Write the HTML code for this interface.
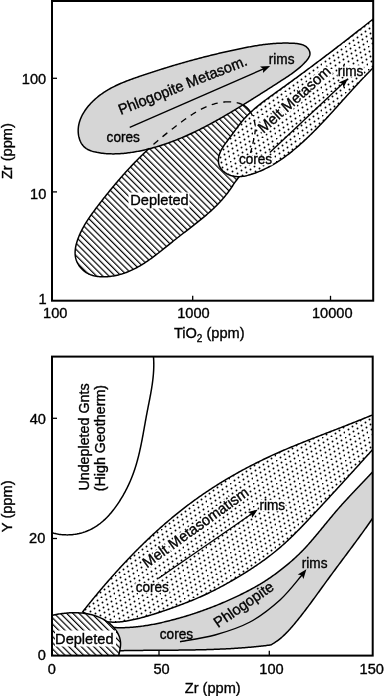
<!DOCTYPE html>
<html><head><meta charset="utf-8"><style>
html,body{margin:0;padding:0;background:#fff;width:384px;height:696px;overflow:hidden}
svg{display:block}
</style></head><body>
<svg width="384" height="696" viewBox="0 0 384 696">
<defs>
<pattern id="hatch" patternUnits="userSpaceOnUse" width="4.4" height="4.4" patternTransform="rotate(-45)">
<rect width="4.4" height="4.4" fill="#fff"/><rect x="0" y="0" width="1.2" height="4.4" fill="#000"/></pattern>
<pattern id="dots" patternUnits="userSpaceOnUse" width="23" height="23"><rect width="23" height="23" fill="#fff"/><g fill="#000"><circle cx="0.5" cy="0.5" r="0.95"/><circle cx="1.5" cy="5.5" r="0.95"/><circle cx="2.5" cy="10.5" r="0.95"/><circle cx="3.5" cy="15.5" r="0.95"/><circle cx="4.5" cy="20.5" r="0.95"/><circle cx="5.5" cy="2.5" r="0.95"/><circle cx="6.5" cy="7.5" r="0.95"/><circle cx="7.5" cy="12.5" r="0.95"/><circle cx="8.5" cy="17.5" r="0.95"/><circle cx="9.5" cy="22.5" r="0.95"/><circle cx="10.5" cy="4.5" r="0.95"/><circle cx="11.5" cy="9.5" r="0.95"/><circle cx="12.5" cy="14.5" r="0.95"/><circle cx="13.5" cy="19.5" r="0.95"/><circle cx="14.5" cy="1.5" r="0.95"/><circle cx="15.5" cy="6.5" r="0.95"/><circle cx="16.5" cy="11.5" r="0.95"/><circle cx="17.5" cy="16.5" r="0.95"/><circle cx="18.5" cy="21.5" r="0.95"/><circle cx="19.5" cy="3.5" r="0.95"/><circle cx="20.5" cy="8.5" r="0.95"/><circle cx="21.5" cy="13.5" r="0.95"/><circle cx="22.5" cy="18.5" r="0.95"/></g></pattern>
<clipPath id="ctop"><rect x="52" y="1" width="321.2" height="299.7"/></clipPath>
<clipPath id="cbot"><rect x="52" y="356.6" width="320.7" height="299"/></clipPath>
</defs>
<rect width="384" height="696" fill="#fff"/>
<style>text{stroke:#000;stroke-width:0.35px;paint-order:stroke}text.h{stroke:#fff;fill:#fff;stroke-width:3.4px;stroke-linejoin:round}</style>
<g style="font-family:'Liberation Sans',Arial,Helvetica,sans-serif" fill="#000">
<g clip-path="url(#ctop)" stroke="#000" stroke-width="1.5" stroke-linejoin="round">
<path d="M227.96 101.82 L229.16 101.82 L230.36 101.85 L231.56 101.91 L232.76 102.01 L233.96 102.15 L235.14 102.33 L236.32 102.56 L237.47 102.82 L238.62 103.14 L239.74 103.50 L240.84 103.92 L241.91 104.39 L242.96 104.92 L243.97 105.50 L244.96 106.14 L245.90 106.85 L246.81 107.61 L247.67 108.45 L248.49 109.35 L249.26 110.32 L249.99 111.33 L250.67 112.39 L251.30 113.47 L251.89 114.58 L252.43 115.70 L252.93 116.83 L253.38 117.97 L253.78 119.13 L254.14 120.29 L254.45 121.46 L254.71 122.64 L254.92 123.82 L255.09 125.01 L255.21 126.19 L255.28 127.38 L255.30 128.57 L255.27 129.75 L255.20 130.93 L255.08 132.11 L254.93 133.29 L254.74 134.46 L254.53 135.64 L254.30 136.81 L254.06 137.99 L253.80 139.16 L253.54 140.34 L253.27 141.52 L253.01 142.70 L252.74 143.89 L252.47 145.07 L252.20 146.25 L251.92 147.44 L251.64 148.62 L251.34 149.80 L251.05 150.97 L250.74 152.15 L250.42 153.31 L250.09 154.48 L249.75 155.64 L249.40 156.79 L249.03 157.94 L248.65 159.08 L248.25 160.21 L247.83 161.33 L247.40 162.44 L246.95 163.55 L246.48 164.64 L245.98 165.72 L245.47 166.79 L244.93 167.85 L244.37 168.89 L243.78 169.92 L243.17 170.94 L242.53 171.94 L241.86 172.93 L241.18 173.90 L240.48 174.87 L239.77 175.84 L239.04 176.80 L238.31 177.76 L237.58 178.73 L236.85 179.70 L236.12 180.68 L235.40 181.66 L234.70 182.66 L234.01 183.68 L233.32 184.70 L232.64 185.73 L231.97 186.76 L231.29 187.78 L230.60 188.80 L229.90 189.80 L229.19 190.79 L228.47 191.77 L227.75 192.75 L227.01 193.71 L226.26 194.66 L225.51 195.60 L224.75 196.53 L223.98 197.45 L223.20 198.37 L222.41 199.27 L221.62 200.17 L220.82 201.06 L220.01 201.94 L219.19 202.81 L218.37 203.67 L217.54 204.53 L216.70 205.38 L215.86 206.22 L215.01 207.05 L214.15 207.88 L213.29 208.70 L212.42 209.52 L211.55 210.33 L210.67 211.14 L209.79 211.93 L208.90 212.73 L208.00 213.52 L207.10 214.30 L206.20 215.08 L205.29 215.86 L204.38 216.63 L203.46 217.40 L202.54 218.16 L201.62 218.92 L200.69 219.68 L199.76 220.43 L198.83 221.18 L197.89 221.93 L196.95 222.68 L196.01 223.42 L195.07 224.17 L194.12 224.91 L193.17 225.65 L192.22 226.39 L191.27 227.12 L190.31 227.86 L189.36 228.60 L188.40 229.33 L187.44 230.07 L186.48 230.81 L185.52 231.55 L184.56 232.28 L183.60 233.02 L182.64 233.76 L181.68 234.50 L180.72 235.25 L179.77 235.99 L178.81 236.74 L177.85 237.49 L176.89 238.24 L175.94 238.99 L174.98 239.75 L174.03 240.51 L173.08 241.27 L172.12 242.04 L171.17 242.80 L170.22 243.57 L169.27 244.34 L168.32 245.11 L167.37 245.88 L166.42 246.64 L165.47 247.41 L164.52 248.18 L163.57 248.94 L162.62 249.70 L161.67 250.46 L160.71 251.22 L159.76 251.98 L158.80 252.73 L157.84 253.47 L156.88 254.21 L155.92 254.95 L154.95 255.68 L153.98 256.41 L153.01 257.13 L152.04 257.84 L151.06 258.55 L150.08 259.25 L149.10 259.94 L148.11 260.63 L147.12 261.30 L146.13 261.97 L145.13 262.63 L144.13 263.28 L143.12 263.92 L142.11 264.54 L141.09 265.16 L140.07 265.77 L139.04 266.36 L138.01 266.94 L136.97 267.51 L135.93 268.07 L134.88 268.61 L133.82 269.15 L132.76 269.66 L131.69 270.16 L130.62 270.65 L129.54 271.12 L128.45 271.58 L127.36 272.02 L126.25 272.44 L125.14 272.85 L124.03 273.24 L122.90 273.61 L121.77 273.97 L120.62 274.30 L119.47 274.62 L118.32 274.92 L117.15 275.20 L115.97 275.46 L114.79 275.70 L113.59 275.91 L112.39 276.11 L111.17 276.28 L109.95 276.44 L108.72 276.57 L107.48 276.67 L106.23 276.75 L104.98 276.80 L103.73 276.83 L102.48 276.82 L101.23 276.78 L99.99 276.70 L98.76 276.59 L97.53 276.44 L96.31 276.25 L95.11 276.03 L93.92 275.75 L92.75 275.44 L91.60 275.08 L90.47 274.67 L89.36 274.21 L88.28 273.70 L87.22 273.13 L86.20 272.52 L85.20 271.85 L84.24 271.14 L83.31 270.38 L82.43 269.57 L81.58 268.73 L80.78 267.84 L80.02 266.92 L79.30 265.97 L78.64 264.98 L78.02 263.97 L77.46 262.92 L76.96 261.86 L76.51 260.77 L76.13 259.66 L75.80 258.53 L75.54 257.39 L75.34 256.24 L75.21 255.07 L75.13 253.89 L75.10 252.71 L75.13 251.52 L75.21 250.32 L75.33 249.12 L75.50 247.91 L75.71 246.71 L75.96 245.50 L76.25 244.30 L76.57 243.10 L76.92 241.90 L77.30 240.71 L77.71 239.53 L78.13 238.36 L78.58 237.19 L79.05 236.05 L79.53 234.91 L80.02 233.79 L80.53 232.68 L81.06 231.58 L81.60 230.49 L82.15 229.41 L82.71 228.35 L83.28 227.29 L83.87 226.25 L84.47 225.21 L85.08 224.18 L85.69 223.16 L86.32 222.15 L86.96 221.15 L87.60 220.15 L88.26 219.16 L88.92 218.17 L89.59 217.19 L90.26 216.22 L90.95 215.25 L91.63 214.28 L92.33 213.31 L93.03 212.35 L93.73 211.39 L94.44 210.44 L95.15 209.48 L95.86 208.53 L96.58 207.57 L97.30 206.62 L98.02 205.67 L98.75 204.72 L99.48 203.76 L100.21 202.81 L100.94 201.86 L101.68 200.91 L102.41 199.96 L103.16 199.02 L103.90 198.07 L104.64 197.12 L105.39 196.18 L106.14 195.23 L106.90 194.29 L107.65 193.35 L108.41 192.41 L109.17 191.47 L109.94 190.53 L110.70 189.59 L111.47 188.66 L112.24 187.72 L113.02 186.79 L113.79 185.86 L114.57 184.93 L115.35 184.00 L116.14 183.08 L116.92 182.15 L117.71 181.23 L118.50 180.31 L119.30 179.39 L120.09 178.48 L120.89 177.56 L121.69 176.65 L122.50 175.74 L123.30 174.83 L124.11 173.93 L124.92 173.02 L125.73 172.12 L126.55 171.22 L127.37 170.33 L128.19 169.43 L129.01 168.54 L129.84 167.66 L130.66 166.77 L131.50 165.89 L132.33 165.01 L133.16 164.13 L134.00 163.26 L134.84 162.38 L135.68 161.52 L136.53 160.65 L137.37 159.79 L138.22 158.93 L139.07 158.07 L139.93 157.22 L140.79 156.37 L141.64 155.53 L142.50 154.68 L143.37 153.84 L144.23 153.01 L145.10 152.18 L145.97 151.35 L146.85 150.52 L147.72 149.70 L148.60 148.89 L149.48 148.07 L150.36 147.26 L151.24 146.46 L152.13 145.66 L153.02 144.86 L153.91 144.06 L154.80 143.28 L155.70 142.49 L156.60 141.71 L157.50 140.93 L158.40 140.16 L159.30 139.39 L160.21 138.63 L161.12 137.87 L162.03 137.11 L162.95 136.36 L163.86 135.61 L164.79 134.86 L165.71 134.12 L166.64 133.37 L167.57 132.63 L168.50 131.89 L169.44 131.15 L170.38 130.40 L171.33 129.66 L172.27 128.92 L173.23 128.18 L174.18 127.44 L175.15 126.69 L176.11 125.95 L177.08 125.20 L178.06 124.46 L179.04 123.72 L180.02 122.97 L181.01 122.24 L182.00 121.50 L183.00 120.77 L184.00 120.04 L185.01 119.32 L186.02 118.60 L187.03 117.89 L188.05 117.19 L189.08 116.49 L190.11 115.81 L191.14 115.13 L192.18 114.46 L193.22 113.80 L194.27 113.15 L195.32 112.52 L196.38 111.89 L197.44 111.28 L198.51 110.68 L199.58 110.09 L200.65 109.52 L201.73 108.97 L202.82 108.43 L203.91 107.90 L205.01 107.40 L206.11 106.91 L207.21 106.44 L208.32 105.99 L209.44 105.55 L210.56 105.14 L211.68 104.75 L212.81 104.38 L213.94 104.04 L215.08 103.71 L216.23 103.41 L217.38 103.13 L218.53 102.88 L219.69 102.65 L220.86 102.45 L222.03 102.28 L223.20 102.13 L224.38 102.01 L225.57 101.92 L226.76 101.85 L227.96 101.82Z" fill="url(#hatch)"/>
<path d="M78.22 132.10 L78.18 130.90 L78.19 129.71 L78.26 128.52 L78.37 127.34 L78.52 126.17 L78.73 125.00 L78.97 123.85 L79.26 122.70 L79.59 121.56 L79.96 120.43 L80.36 119.31 L80.81 118.20 L81.29 117.10 L81.80 116.02 L82.35 114.94 L82.93 113.88 L83.54 112.83 L84.18 111.79 L84.85 110.76 L85.55 109.75 L86.27 108.75 L87.01 107.77 L87.78 106.80 L88.57 105.84 L89.38 104.90 L90.21 103.98 L91.05 103.07 L91.92 102.18 L92.80 101.31 L93.69 100.45 L94.59 99.61 L95.51 98.79 L96.44 97.99 L97.37 97.21 L98.32 96.44 L99.27 95.69 L100.24 94.96 L101.21 94.25 L102.19 93.55 L103.18 92.87 L104.18 92.20 L105.18 91.55 L106.19 90.92 L107.21 90.29 L108.24 89.68 L109.28 89.09 L110.32 88.51 L111.36 87.94 L112.42 87.38 L113.48 86.83 L114.54 86.30 L115.61 85.77 L116.69 85.26 L117.77 84.76 L118.86 84.26 L119.95 83.78 L121.05 83.30 L122.15 82.84 L123.25 82.38 L124.36 81.93 L125.47 81.48 L126.59 81.04 L127.71 80.61 L128.83 80.19 L129.96 79.77 L131.09 79.35 L132.22 78.94 L133.35 78.54 L134.49 78.13 L135.62 77.73 L136.76 77.34 L137.90 76.94 L139.04 76.55 L140.18 76.16 L141.33 75.78 L142.47 75.39 L143.61 75.00 L144.76 74.62 L145.90 74.24 L147.05 73.85 L148.20 73.48 L149.34 73.10 L150.49 72.72 L151.64 72.34 L152.79 71.97 L153.94 71.60 L155.09 71.23 L156.24 70.86 L157.40 70.49 L158.55 70.12 L159.70 69.76 L160.86 69.39 L162.01 69.03 L163.16 68.67 L164.32 68.31 L165.48 67.96 L166.63 67.60 L167.79 67.25 L168.95 66.89 L170.11 66.54 L171.27 66.19 L172.42 65.84 L173.58 65.50 L174.74 65.15 L175.91 64.81 L177.07 64.47 L178.23 64.13 L179.39 63.79 L180.55 63.45 L181.71 63.12 L182.88 62.79 L184.04 62.46 L185.21 62.13 L186.37 61.80 L187.53 61.47 L188.70 61.15 L189.86 60.82 L191.03 60.50 L192.20 60.18 L193.36 59.87 L194.53 59.55 L195.69 59.24 L196.86 58.92 L198.03 58.61 L199.20 58.30 L200.36 58.00 L201.53 57.69 L202.70 57.39 L203.87 57.09 L205.04 56.79 L206.20 56.49 L207.37 56.19 L208.54 55.90 L209.71 55.61 L210.88 55.32 L212.05 55.03 L213.22 54.74 L214.39 54.46 L215.56 54.18 L216.73 53.90 L217.90 53.62 L219.07 53.34 L220.24 53.06 L221.41 52.79 L222.58 52.52 L223.75 52.25 L224.92 51.98 L226.09 51.72 L227.26 51.46 L228.43 51.20 L229.60 50.94 L230.77 50.68 L231.94 50.42 L233.11 50.17 L234.28 49.92 L235.45 49.67 L236.62 49.43 L237.78 49.18 L238.95 48.94 L240.12 48.70 L241.29 48.46 L242.46 48.22 L243.63 47.99 L244.80 47.76 L245.97 47.53 L247.14 47.31 L248.31 47.08 L249.48 46.87 L250.65 46.65 L251.82 46.44 L253.00 46.24 L254.17 46.04 L255.35 45.84 L256.53 45.65 L257.71 45.46 L258.89 45.28 L260.07 45.10 L261.25 44.93 L262.44 44.77 L263.63 44.61 L264.82 44.46 L266.01 44.32 L267.20 44.18 L268.40 44.05 L269.60 43.93 L270.80 43.81 L272.01 43.70 L273.22 43.60 L274.43 43.51 L275.64 43.43 L276.86 43.35 L278.08 43.29 L279.31 43.23 L280.53 43.18 L281.77 43.15 L283.00 43.12 L284.24 43.10 L285.49 43.09 L286.74 43.09 L287.99 43.11 L289.25 43.13 L290.51 43.17 L291.78 43.21 L293.05 43.27 L294.32 43.34 L295.59 43.44 L296.85 43.56 L298.09 43.72 L299.32 43.92 L300.51 44.18 L301.67 44.49 L302.78 44.86 L303.85 45.31 L304.86 45.84 L305.82 46.46 L306.71 47.16 L307.51 47.96 L308.23 48.82 L308.84 49.75 L309.33 50.73 L309.69 51.74 L309.91 52.78 L309.96 53.83 L309.85 54.89 L309.55 55.94 L309.10 56.97 L308.52 57.99 L307.83 58.99 L307.07 59.98 L306.27 60.94 L305.44 61.88 L304.59 62.80 L303.73 63.70 L302.86 64.58 L301.98 65.43 L301.08 66.27 L300.17 67.09 L299.25 67.89 L298.32 68.68 L297.39 69.45 L296.44 70.21 L295.48 70.95 L294.52 71.68 L293.54 72.40 L292.56 73.11 L291.58 73.81 L290.59 74.51 L289.60 75.19 L288.60 75.87 L287.59 76.54 L286.59 77.20 L285.58 77.87 L284.57 78.53 L283.56 79.18 L282.55 79.84 L281.54 80.49 L280.52 81.15 L279.51 81.80 L278.50 82.46 L277.49 83.11 L276.48 83.76 L275.46 84.41 L274.45 85.07 L273.44 85.72 L272.43 86.37 L271.41 87.02 L270.40 87.67 L269.39 88.32 L268.37 88.96 L267.36 89.61 L266.35 90.26 L265.33 90.90 L264.32 91.55 L263.30 92.20 L262.29 92.84 L261.27 93.48 L260.26 94.13 L259.24 94.77 L258.22 95.41 L257.20 96.05 L256.19 96.69 L255.17 97.33 L254.15 97.97 L253.13 98.61 L252.11 99.24 L251.09 99.88 L250.07 100.52 L249.05 101.15 L248.02 101.78 L247.00 102.42 L245.98 103.05 L244.95 103.68 L243.93 104.31 L242.90 104.94 L241.88 105.57 L240.85 106.20 L239.82 106.82 L238.79 107.45 L237.76 108.07 L236.73 108.70 L235.70 109.32 L234.67 109.94 L233.64 110.56 L232.60 111.18 L231.57 111.80 L230.53 112.42 L229.50 113.03 L228.46 113.64 L227.42 114.25 L226.38 114.86 L225.34 115.47 L224.30 116.07 L223.25 116.68 L222.21 117.28 L221.16 117.88 L220.12 118.48 L219.07 119.07 L218.02 119.66 L216.97 120.25 L215.91 120.84 L214.86 121.42 L213.81 122.01 L212.75 122.59 L211.69 123.16 L210.63 123.74 L209.57 124.31 L208.51 124.88 L207.44 125.44 L206.38 126.00 L205.31 126.56 L204.24 127.12 L203.17 127.67 L202.10 128.22 L201.02 128.76 L199.95 129.30 L198.87 129.84 L197.79 130.37 L196.71 130.90 L195.62 131.43 L194.54 131.95 L193.45 132.47 L192.36 132.98 L191.27 133.49 L190.18 134.00 L189.08 134.50 L187.98 135.00 L186.88 135.49 L185.78 135.98 L184.68 136.46 L183.57 136.94 L182.47 137.42 L181.35 137.89 L180.24 138.35 L179.13 138.81 L178.01 139.27 L176.89 139.72 L175.77 140.16 L174.64 140.60 L173.52 141.04 L172.39 141.46 L171.26 141.89 L170.12 142.30 L168.99 142.72 L167.85 143.12 L166.71 143.52 L165.57 143.92 L164.42 144.31 L163.28 144.69 L162.13 145.06 L160.98 145.43 L159.83 145.80 L158.68 146.16 L157.52 146.51 L156.37 146.85 L155.21 147.19 L154.05 147.52 L152.89 147.84 L151.72 148.16 L150.56 148.46 L149.39 148.77 L148.23 149.06 L147.06 149.35 L145.89 149.63 L144.72 149.90 L143.55 150.16 L142.37 150.42 L141.20 150.67 L140.03 150.91 L138.85 151.14 L137.67 151.37 L136.49 151.59 L135.32 151.79 L134.14 151.99 L132.96 152.19 L131.78 152.37 L130.59 152.54 L129.41 152.71 L128.23 152.86 L127.04 153.01 L125.86 153.15 L124.67 153.28 L123.49 153.39 L122.30 153.50 L121.11 153.59 L119.92 153.67 L118.72 153.74 L117.53 153.80 L116.33 153.84 L115.13 153.87 L113.93 153.88 L112.72 153.88 L111.52 153.87 L110.31 153.83 L109.09 153.79 L107.88 153.72 L106.66 153.64 L105.44 153.55 L104.21 153.43 L102.98 153.30 L101.75 153.15 L100.51 152.98 L99.27 152.79 L98.02 152.58 L96.77 152.35 L95.53 152.09 L94.29 151.81 L93.06 151.49 L91.85 151.13 L90.67 150.73 L89.53 150.29 L88.42 149.79 L87.35 149.23 L86.34 148.62 L85.38 147.94 L84.49 147.19 L83.66 146.37 L82.89 145.50 L82.18 144.56 L81.53 143.58 L80.95 142.55 L80.42 141.48 L79.95 140.38 L79.54 139.25 L79.18 138.09 L78.88 136.91 L78.63 135.72 L78.44 134.51 L78.30 133.31 L78.22 132.10Z" fill="#d6d6d6"/>
<path d="M384.83 9.73 L383.89 10.48 L382.94 11.24 L382.00 11.99 L381.06 12.75 L380.11 13.50 L379.17 14.25 L378.22 15.01 L377.28 15.76 L376.33 16.51 L375.39 17.26 L374.45 18.01 L373.50 18.76 L372.56 19.51 L371.61 20.26 L370.66 21.01 L369.72 21.76 L368.77 22.51 L367.83 23.26 L366.88 24.00 L365.94 24.75 L364.99 25.50 L364.04 26.24 L363.09 26.99 L362.15 27.73 L361.20 28.48 L360.25 29.22 L359.31 29.96 L358.36 30.71 L357.41 31.45 L356.46 32.19 L355.51 32.93 L354.56 33.67 L353.61 34.41 L352.66 35.15 L351.71 35.89 L350.76 36.63 L349.81 37.37 L348.86 38.11 L347.91 38.85 L346.96 39.58 L346.01 40.32 L345.06 41.06 L344.10 41.79 L343.15 42.53 L342.20 43.26 L341.25 44.00 L340.29 44.73 L339.34 45.47 L338.39 46.20 L337.43 46.93 L336.48 47.66 L335.52 48.40 L334.57 49.13 L333.61 49.86 L332.65 50.59 L331.70 51.32 L330.74 52.05 L329.78 52.78 L328.82 53.50 L327.87 54.23 L326.91 54.96 L325.95 55.69 L324.99 56.41 L324.03 57.14 L323.07 57.87 L322.11 58.59 L321.15 59.32 L320.19 60.04 L319.22 60.76 L318.26 61.49 L317.30 62.21 L316.33 62.93 L315.37 63.66 L314.41 64.38 L313.44 65.10 L312.48 65.82 L311.51 66.54 L310.54 67.26 L309.58 67.98 L308.61 68.70 L307.64 69.42 L306.68 70.13 L305.71 70.85 L304.74 71.57 L303.77 72.28 L302.80 73.00 L301.83 73.72 L300.85 74.43 L299.88 75.15 L298.91 75.86 L297.94 76.57 L296.96 77.29 L295.99 78.00 L295.02 78.71 L294.04 79.43 L293.06 80.14 L292.09 80.85 L291.11 81.56 L290.13 82.27 L289.16 82.98 L288.18 83.69 L287.20 84.40 L286.22 85.11 L285.24 85.81 L284.25 86.52 L283.27 87.23 L282.29 87.94 L281.31 88.64 L280.32 89.35 L279.34 90.05 L278.35 90.76 L277.37 91.46 L276.38 92.17 L275.40 92.87 L274.41 93.58 L273.42 94.28 L272.44 94.99 L271.46 95.69 L270.47 96.40 L269.49 97.11 L268.51 97.82 L267.54 98.54 L266.57 99.26 L265.60 99.98 L264.63 100.70 L263.67 101.42 L262.71 102.15 L261.76 102.89 L260.81 103.63 L259.87 104.37 L258.93 105.12 L258.00 105.87 L257.07 106.63 L256.15 107.40 L255.24 108.17 L254.34 108.94 L253.44 109.73 L252.55 110.52 L251.67 111.31 L250.80 112.12 L249.93 112.93 L249.08 113.75 L248.23 114.58 L247.40 115.42 L246.57 116.27 L245.76 117.12 L244.96 117.99 L244.16 118.86 L243.38 119.75 L242.62 120.64 L241.86 121.55 L241.11 122.46 L240.37 123.39 L239.64 124.32 L238.92 125.26 L238.20 126.21 L237.48 127.17 L236.77 128.13 L236.06 129.10 L235.35 130.08 L234.63 131.06 L233.92 132.05 L233.20 133.04 L232.48 134.03 L231.75 135.03 L231.01 136.03 L230.27 137.03 L229.51 138.04 L228.75 139.04 L227.98 140.05 L227.21 141.07 L226.44 142.08 L225.68 143.11 L224.94 144.14 L224.21 145.18 L223.51 146.22 L222.83 147.28 L222.18 148.35 L221.57 149.43 L221.00 150.52 L220.48 151.63 L220.01 152.75 L219.59 153.89 L219.23 155.03 L218.93 156.19 L218.69 157.35 L218.53 158.51 L218.43 159.66 L218.41 160.80 L218.46 161.93 L218.60 163.03 L218.82 164.11 L219.13 165.16 L219.52 166.18 L220.00 167.16 L220.57 168.10 L221.21 169.01 L221.92 169.87 L222.71 170.69 L223.55 171.46 L224.45 172.18 L225.40 172.86 L226.40 173.49 L227.44 174.06 L228.52 174.58 L229.62 175.05 L230.76 175.46 L231.92 175.81 L233.09 176.10 L234.28 176.33 L235.47 176.49 L236.67 176.59 L237.88 176.64 L239.09 176.64 L240.30 176.58 L241.52 176.48 L242.74 176.34 L243.96 176.15 L245.17 175.93 L246.39 175.67 L247.60 175.38 L248.81 175.06 L250.01 174.72 L251.21 174.36 L252.40 173.98 L253.58 173.58 L254.75 173.18 L255.91 172.75 L257.07 172.32 L258.22 171.87 L259.36 171.41 L260.49 170.94 L261.61 170.45 L262.72 169.96 L263.83 169.45 L264.93 168.93 L266.02 168.40 L267.10 167.85 L268.18 167.30 L269.25 166.74 L270.31 166.16 L271.37 165.58 L272.41 164.98 L273.45 164.38 L274.49 163.77 L275.52 163.14 L276.54 162.51 L277.55 161.87 L278.56 161.22 L279.57 160.56 L280.56 159.89 L281.55 159.22 L282.54 158.53 L283.52 157.84 L284.49 157.14 L285.46 156.44 L286.42 155.72 L287.38 155.00 L288.33 154.28 L289.28 153.54 L290.23 152.80 L291.16 152.05 L292.10 151.30 L293.03 150.54 L293.95 149.78 L294.87 149.01 L295.79 148.24 L296.70 147.46 L297.61 146.68 L298.52 145.89 L299.42 145.10 L300.31 144.30 L301.21 143.50 L302.10 142.70 L302.99 141.89 L303.87 141.08 L304.75 140.26 L305.63 139.44 L306.50 138.62 L307.37 137.79 L308.24 136.96 L309.11 136.13 L309.97 135.29 L310.83 134.45 L311.69 133.61 L312.54 132.76 L313.39 131.92 L314.24 131.06 L315.09 130.21 L315.94 129.35 L316.78 128.49 L317.62 127.63 L318.46 126.77 L319.29 125.90 L320.13 125.03 L320.96 124.16 L321.79 123.29 L322.62 122.41 L323.45 121.53 L324.27 120.65 L325.10 119.77 L325.92 118.89 L326.74 118.01 L327.56 117.12 L328.38 116.23 L329.19 115.35 L330.01 114.46 L330.83 113.56 L331.64 112.67 L332.45 111.78 L333.26 110.88 L334.08 109.99 L334.89 109.09 L335.70 108.20 L336.51 107.30 L337.31 106.40 L338.12 105.50 L338.93 104.60 L339.74 103.70 L340.55 102.80 L341.35 101.90 L342.16 101.01 L342.97 100.11 L343.78 99.21 L344.58 98.31 L345.39 97.41 L346.20 96.51 L347.01 95.61 L347.81 94.71 L348.62 93.81 L349.43 92.92 L350.24 92.02 L351.05 91.13 L351.87 90.23 L352.68 89.34 L353.49 88.45 L354.31 87.56 L355.12 86.67 L355.94 85.78 L356.76 84.89 L357.57 84.00 L358.39 83.12 L359.22 82.24 L360.04 81.36 L360.86 80.48 L361.69 79.60 L362.52 78.72 L363.35 77.85 L364.18 76.98 L365.01 76.11 L365.85 75.24 L366.68 74.38 L367.52 73.52 L368.36 72.66 L369.21 71.80 L370.05 70.95 L370.90 70.09 L371.75 69.25 L372.61 68.40 L373.46 67.56 L374.32 66.72 L375.18 65.88 L376.05 65.05 L376.91 64.22 L377.78 63.39 L378.65 62.57 L379.53 61.75 L380.41 60.93 L381.29 60.12 L382.18 59.31 L383.06 58.51 L383.96 57.71 L384.85 56.91Z" fill="url(#dots)"/>
<clipPath id="cdash"><path d="M78.22 132.10 L78.18 130.90 L78.19 129.71 L78.26 128.52 L78.37 127.34 L78.52 126.17 L78.73 125.00 L78.97 123.85 L79.26 122.70 L79.59 121.56 L79.96 120.43 L80.36 119.31 L80.81 118.20 L81.29 117.10 L81.80 116.02 L82.35 114.94 L82.93 113.88 L83.54 112.83 L84.18 111.79 L84.85 110.76 L85.55 109.75 L86.27 108.75 L87.01 107.77 L87.78 106.80 L88.57 105.84 L89.38 104.90 L90.21 103.98 L91.05 103.07 L91.92 102.18 L92.80 101.31 L93.69 100.45 L94.59 99.61 L95.51 98.79 L96.44 97.99 L97.37 97.21 L98.32 96.44 L99.27 95.69 L100.24 94.96 L101.21 94.25 L102.19 93.55 L103.18 92.87 L104.18 92.20 L105.18 91.55 L106.19 90.92 L107.21 90.29 L108.24 89.68 L109.28 89.09 L110.32 88.51 L111.36 87.94 L112.42 87.38 L113.48 86.83 L114.54 86.30 L115.61 85.77 L116.69 85.26 L117.77 84.76 L118.86 84.26 L119.95 83.78 L121.05 83.30 L122.15 82.84 L123.25 82.38 L124.36 81.93 L125.47 81.48 L126.59 81.04 L127.71 80.61 L128.83 80.19 L129.96 79.77 L131.09 79.35 L132.22 78.94 L133.35 78.54 L134.49 78.13 L135.62 77.73 L136.76 77.34 L137.90 76.94 L139.04 76.55 L140.18 76.16 L141.33 75.78 L142.47 75.39 L143.61 75.00 L144.76 74.62 L145.90 74.24 L147.05 73.85 L148.20 73.48 L149.34 73.10 L150.49 72.72 L151.64 72.34 L152.79 71.97 L153.94 71.60 L155.09 71.23 L156.24 70.86 L157.40 70.49 L158.55 70.12 L159.70 69.76 L160.86 69.39 L162.01 69.03 L163.16 68.67 L164.32 68.31 L165.48 67.96 L166.63 67.60 L167.79 67.25 L168.95 66.89 L170.11 66.54 L171.27 66.19 L172.42 65.84 L173.58 65.50 L174.74 65.15 L175.91 64.81 L177.07 64.47 L178.23 64.13 L179.39 63.79 L180.55 63.45 L181.71 63.12 L182.88 62.79 L184.04 62.46 L185.21 62.13 L186.37 61.80 L187.53 61.47 L188.70 61.15 L189.86 60.82 L191.03 60.50 L192.20 60.18 L193.36 59.87 L194.53 59.55 L195.69 59.24 L196.86 58.92 L198.03 58.61 L199.20 58.30 L200.36 58.00 L201.53 57.69 L202.70 57.39 L203.87 57.09 L205.04 56.79 L206.20 56.49 L207.37 56.19 L208.54 55.90 L209.71 55.61 L210.88 55.32 L212.05 55.03 L213.22 54.74 L214.39 54.46 L215.56 54.18 L216.73 53.90 L217.90 53.62 L219.07 53.34 L220.24 53.06 L221.41 52.79 L222.58 52.52 L223.75 52.25 L224.92 51.98 L226.09 51.72 L227.26 51.46 L228.43 51.20 L229.60 50.94 L230.77 50.68 L231.94 50.42 L233.11 50.17 L234.28 49.92 L235.45 49.67 L236.62 49.43 L237.78 49.18 L238.95 48.94 L240.12 48.70 L241.29 48.46 L242.46 48.22 L243.63 47.99 L244.80 47.76 L245.97 47.53 L247.14 47.31 L248.31 47.08 L249.48 46.87 L250.65 46.65 L251.82 46.44 L253.00 46.24 L254.17 46.04 L255.35 45.84 L256.53 45.65 L257.71 45.46 L258.89 45.28 L260.07 45.10 L261.25 44.93 L262.44 44.77 L263.63 44.61 L264.82 44.46 L266.01 44.32 L267.20 44.18 L268.40 44.05 L269.60 43.93 L270.80 43.81 L272.01 43.70 L273.22 43.60 L274.43 43.51 L275.64 43.43 L276.86 43.35 L278.08 43.29 L279.31 43.23 L280.53 43.18 L281.77 43.15 L283.00 43.12 L284.24 43.10 L285.49 43.09 L286.74 43.09 L287.99 43.11 L289.25 43.13 L290.51 43.17 L291.78 43.21 L293.05 43.27 L294.32 43.34 L295.59 43.44 L296.85 43.56 L298.09 43.72 L299.32 43.92 L300.51 44.18 L301.67 44.49 L302.78 44.86 L303.85 45.31 L304.86 45.84 L305.82 46.46 L306.71 47.16 L307.51 47.96 L308.23 48.82 L308.84 49.75 L309.33 50.73 L309.69 51.74 L309.91 52.78 L309.96 53.83 L309.85 54.89 L309.55 55.94 L309.10 56.97 L308.52 57.99 L307.83 58.99 L307.07 59.98 L306.27 60.94 L305.44 61.88 L304.59 62.80 L303.73 63.70 L302.86 64.58 L301.98 65.43 L301.08 66.27 L300.17 67.09 L299.25 67.89 L298.32 68.68 L297.39 69.45 L296.44 70.21 L295.48 70.95 L294.52 71.68 L293.54 72.40 L292.56 73.11 L291.58 73.81 L290.59 74.51 L289.60 75.19 L288.60 75.87 L287.59 76.54 L286.59 77.20 L285.58 77.87 L284.57 78.53 L283.56 79.18 L282.55 79.84 L281.54 80.49 L280.52 81.15 L279.51 81.80 L278.50 82.46 L277.49 83.11 L276.48 83.76 L275.46 84.41 L274.45 85.07 L273.44 85.72 L272.43 86.37 L271.41 87.02 L270.40 87.67 L269.39 88.32 L268.37 88.96 L267.36 89.61 L266.35 90.26 L265.33 90.90 L264.32 91.55 L263.30 92.20 L262.29 92.84 L261.27 93.48 L260.26 94.13 L259.24 94.77 L258.22 95.41 L257.20 96.05 L256.19 96.69 L255.17 97.33 L254.15 97.97 L253.13 98.61 L252.11 99.24 L251.09 99.88 L250.07 100.52 L249.05 101.15 L248.02 101.78 L247.00 102.42 L245.98 103.05 L244.95 103.68 L243.93 104.31 L242.90 104.94 L241.88 105.57 L240.85 106.20 L239.82 106.82 L238.79 107.45 L237.76 108.07 L236.73 108.70 L235.70 109.32 L234.67 109.94 L233.64 110.56 L232.60 111.18 L231.57 111.80 L230.53 112.42 L229.50 113.03 L228.46 113.64 L227.42 114.25 L226.38 114.86 L225.34 115.47 L224.30 116.07 L223.25 116.68 L222.21 117.28 L221.16 117.88 L220.12 118.48 L219.07 119.07 L218.02 119.66 L216.97 120.25 L215.91 120.84 L214.86 121.42 L213.81 122.01 L212.75 122.59 L211.69 123.16 L210.63 123.74 L209.57 124.31 L208.51 124.88 L207.44 125.44 L206.38 126.00 L205.31 126.56 L204.24 127.12 L203.17 127.67 L202.10 128.22 L201.02 128.76 L199.95 129.30 L198.87 129.84 L197.79 130.37 L196.71 130.90 L195.62 131.43 L194.54 131.95 L193.45 132.47 L192.36 132.98 L191.27 133.49 L190.18 134.00 L189.08 134.50 L187.98 135.00 L186.88 135.49 L185.78 135.98 L184.68 136.46 L183.57 136.94 L182.47 137.42 L181.35 137.89 L180.24 138.35 L179.13 138.81 L178.01 139.27 L176.89 139.72 L175.77 140.16 L174.64 140.60 L173.52 141.04 L172.39 141.46 L171.26 141.89 L170.12 142.30 L168.99 142.72 L167.85 143.12 L166.71 143.52 L165.57 143.92 L164.42 144.31 L163.28 144.69 L162.13 145.06 L160.98 145.43 L159.83 145.80 L158.68 146.16 L157.52 146.51 L156.37 146.85 L155.21 147.19 L154.05 147.52 L152.89 147.84 L151.72 148.16 L150.56 148.46 L149.39 148.77 L148.23 149.06 L147.06 149.35 L145.89 149.63 L144.72 149.90 L143.55 150.16 L142.37 150.42 L141.20 150.67 L140.03 150.91 L138.85 151.14 L137.67 151.37 L136.49 151.59 L135.32 151.79 L134.14 151.99 L132.96 152.19 L131.78 152.37 L130.59 152.54 L129.41 152.71 L128.23 152.86 L127.04 153.01 L125.86 153.15 L124.67 153.28 L123.49 153.39 L122.30 153.50 L121.11 153.59 L119.92 153.67 L118.72 153.74 L117.53 153.80 L116.33 153.84 L115.13 153.87 L113.93 153.88 L112.72 153.88 L111.52 153.87 L110.31 153.83 L109.09 153.79 L107.88 153.72 L106.66 153.64 L105.44 153.55 L104.21 153.43 L102.98 153.30 L101.75 153.15 L100.51 152.98 L99.27 152.79 L98.02 152.58 L96.77 152.35 L95.53 152.09 L94.29 151.81 L93.06 151.49 L91.85 151.13 L90.67 150.73 L89.53 150.29 L88.42 149.79 L87.35 149.23 L86.34 148.62 L85.38 147.94 L84.49 147.19 L83.66 146.37 L82.89 145.50 L82.18 144.56 L81.53 143.58 L80.95 142.55 L80.42 141.48 L79.95 140.38 L79.54 139.25 L79.18 138.09 L78.88 136.91 L78.63 135.72 L78.44 134.51 L78.30 133.31 L78.22 132.10Z"/></clipPath>
<path d="M227.96 101.82 L229.16 101.82 L230.36 101.85 L231.56 101.91 L232.76 102.01 L233.96 102.15 L235.14 102.33 L236.32 102.56 L237.47 102.82 L238.62 103.14 L239.74 103.50 L240.84 103.92 L241.91 104.39 L242.96 104.92 L243.97 105.50 L244.96 106.14 L245.90 106.85 L246.81 107.61 L247.67 108.45 L248.49 109.35 L249.26 110.32 L249.99 111.33 L250.67 112.39 L251.30 113.47 L251.89 114.58 L252.43 115.70 L252.93 116.83 L253.38 117.97 L253.78 119.13 L254.14 120.29 L254.45 121.46 L254.71 122.64 L254.92 123.82 L255.09 125.01 L255.21 126.19 L255.28 127.38 L255.30 128.57 L255.27 129.75 L255.20 130.93 L255.08 132.11 L254.93 133.29 L254.74 134.46 L254.53 135.64 L254.30 136.81 L254.06 137.99 L253.80 139.16 L253.54 140.34 L253.27 141.52 L253.01 142.70 L252.74 143.89 L252.47 145.07 L252.20 146.25 L251.92 147.44 L251.64 148.62 L251.34 149.80 L251.05 150.97 L250.74 152.15 L250.42 153.31 L250.09 154.48 L249.75 155.64 L249.40 156.79 L249.03 157.94 L248.65 159.08 L248.25 160.21 L247.83 161.33 L247.40 162.44 L246.95 163.55 L246.48 164.64 L245.98 165.72 L245.47 166.79 L244.93 167.85 L244.37 168.89 L243.78 169.92 L243.17 170.94 L242.53 171.94 L241.86 172.93 L241.18 173.90 L240.48 174.87 L239.77 175.84 L239.04 176.80 L238.31 177.76 L237.58 178.73 L236.85 179.70 L236.12 180.68 L235.40 181.66 L234.70 182.66 L234.01 183.68 L233.32 184.70 L232.64 185.73 L231.97 186.76 L231.29 187.78 L230.60 188.80 L229.90 189.80 L229.19 190.79 L228.47 191.77 L227.75 192.75 L227.01 193.71 L226.26 194.66 L225.51 195.60 L224.75 196.53 L223.98 197.45 L223.20 198.37 L222.41 199.27 L221.62 200.17 L220.82 201.06 L220.01 201.94 L219.19 202.81 L218.37 203.67 L217.54 204.53 L216.70 205.38 L215.86 206.22 L215.01 207.05 L214.15 207.88 L213.29 208.70 L212.42 209.52 L211.55 210.33 L210.67 211.14 L209.79 211.93 L208.90 212.73 L208.00 213.52 L207.10 214.30 L206.20 215.08 L205.29 215.86 L204.38 216.63 L203.46 217.40 L202.54 218.16 L201.62 218.92 L200.69 219.68 L199.76 220.43 L198.83 221.18 L197.89 221.93 L196.95 222.68 L196.01 223.42 L195.07 224.17 L194.12 224.91 L193.17 225.65 L192.22 226.39 L191.27 227.12 L190.31 227.86 L189.36 228.60 L188.40 229.33 L187.44 230.07 L186.48 230.81 L185.52 231.55 L184.56 232.28 L183.60 233.02 L182.64 233.76 L181.68 234.50 L180.72 235.25 L179.77 235.99 L178.81 236.74 L177.85 237.49 L176.89 238.24 L175.94 238.99 L174.98 239.75 L174.03 240.51 L173.08 241.27 L172.12 242.04 L171.17 242.80 L170.22 243.57 L169.27 244.34 L168.32 245.11 L167.37 245.88 L166.42 246.64 L165.47 247.41 L164.52 248.18 L163.57 248.94 L162.62 249.70 L161.67 250.46 L160.71 251.22 L159.76 251.98 L158.80 252.73 L157.84 253.47 L156.88 254.21 L155.92 254.95 L154.95 255.68 L153.98 256.41 L153.01 257.13 L152.04 257.84 L151.06 258.55 L150.08 259.25 L149.10 259.94 L148.11 260.63 L147.12 261.30 L146.13 261.97 L145.13 262.63 L144.13 263.28 L143.12 263.92 L142.11 264.54 L141.09 265.16 L140.07 265.77 L139.04 266.36 L138.01 266.94 L136.97 267.51 L135.93 268.07 L134.88 268.61 L133.82 269.15 L132.76 269.66 L131.69 270.16 L130.62 270.65 L129.54 271.12 L128.45 271.58 L127.36 272.02 L126.25 272.44 L125.14 272.85 L124.03 273.24 L122.90 273.61 L121.77 273.97 L120.62 274.30 L119.47 274.62 L118.32 274.92 L117.15 275.20 L115.97 275.46 L114.79 275.70 L113.59 275.91 L112.39 276.11 L111.17 276.28 L109.95 276.44 L108.72 276.57 L107.48 276.67 L106.23 276.75 L104.98 276.80 L103.73 276.83 L102.48 276.82 L101.23 276.78 L99.99 276.70 L98.76 276.59 L97.53 276.44 L96.31 276.25 L95.11 276.03 L93.92 275.75 L92.75 275.44 L91.60 275.08 L90.47 274.67 L89.36 274.21 L88.28 273.70 L87.22 273.13 L86.20 272.52 L85.20 271.85 L84.24 271.14 L83.31 270.38 L82.43 269.57 L81.58 268.73 L80.78 267.84 L80.02 266.92 L79.30 265.97 L78.64 264.98 L78.02 263.97 L77.46 262.92 L76.96 261.86 L76.51 260.77 L76.13 259.66 L75.80 258.53 L75.54 257.39 L75.34 256.24 L75.21 255.07 L75.13 253.89 L75.10 252.71 L75.13 251.52 L75.21 250.32 L75.33 249.12 L75.50 247.91 L75.71 246.71 L75.96 245.50 L76.25 244.30 L76.57 243.10 L76.92 241.90 L77.30 240.71 L77.71 239.53 L78.13 238.36 L78.58 237.19 L79.05 236.05 L79.53 234.91 L80.02 233.79 L80.53 232.68 L81.06 231.58 L81.60 230.49 L82.15 229.41 L82.71 228.35 L83.28 227.29 L83.87 226.25 L84.47 225.21 L85.08 224.18 L85.69 223.16 L86.32 222.15 L86.96 221.15 L87.60 220.15 L88.26 219.16 L88.92 218.17 L89.59 217.19 L90.26 216.22 L90.95 215.25 L91.63 214.28 L92.33 213.31 L93.03 212.35 L93.73 211.39 L94.44 210.44 L95.15 209.48 L95.86 208.53 L96.58 207.57 L97.30 206.62 L98.02 205.67 L98.75 204.72 L99.48 203.76 L100.21 202.81 L100.94 201.86 L101.68 200.91 L102.41 199.96 L103.16 199.02 L103.90 198.07 L104.64 197.12 L105.39 196.18 L106.14 195.23 L106.90 194.29 L107.65 193.35 L108.41 192.41 L109.17 191.47 L109.94 190.53 L110.70 189.59 L111.47 188.66 L112.24 187.72 L113.02 186.79 L113.79 185.86 L114.57 184.93 L115.35 184.00 L116.14 183.08 L116.92 182.15 L117.71 181.23 L118.50 180.31 L119.30 179.39 L120.09 178.48 L120.89 177.56 L121.69 176.65 L122.50 175.74 L123.30 174.83 L124.11 173.93 L124.92 173.02 L125.73 172.12 L126.55 171.22 L127.37 170.33 L128.19 169.43 L129.01 168.54 L129.84 167.66 L130.66 166.77 L131.50 165.89 L132.33 165.01 L133.16 164.13 L134.00 163.26 L134.84 162.38 L135.68 161.52 L136.53 160.65 L137.37 159.79 L138.22 158.93 L139.07 158.07 L139.93 157.22 L140.79 156.37 L141.64 155.53 L142.50 154.68 L143.37 153.84 L144.23 153.01 L145.10 152.18 L145.97 151.35 L146.85 150.52 L147.72 149.70 L148.60 148.89 L149.48 148.07 L150.36 147.26 L151.24 146.46 L152.13 145.66 L153.02 144.86 L153.91 144.06 L154.80 143.28 L155.70 142.49 L156.60 141.71 L157.50 140.93 L158.40 140.16 L159.30 139.39 L160.21 138.63 L161.12 137.87 L162.03 137.11 L162.95 136.36 L163.86 135.61 L164.79 134.86 L165.71 134.12 L166.64 133.37 L167.57 132.63 L168.50 131.89 L169.44 131.15 L170.38 130.40 L171.33 129.66 L172.27 128.92 L173.23 128.18 L174.18 127.44 L175.15 126.69 L176.11 125.95 L177.08 125.20 L178.06 124.46 L179.04 123.72 L180.02 122.97 L181.01 122.24 L182.00 121.50 L183.00 120.77 L184.00 120.04 L185.01 119.32 L186.02 118.60 L187.03 117.89 L188.05 117.19 L189.08 116.49 L190.11 115.81 L191.14 115.13 L192.18 114.46 L193.22 113.80 L194.27 113.15 L195.32 112.52 L196.38 111.89 L197.44 111.28 L198.51 110.68 L199.58 110.09 L200.65 109.52 L201.73 108.97 L202.82 108.43 L203.91 107.90 L205.01 107.40 L206.11 106.91 L207.21 106.44 L208.32 105.99 L209.44 105.55 L210.56 105.14 L211.68 104.75 L212.81 104.38 L213.94 104.04 L215.08 103.71 L216.23 103.41 L217.38 103.13 L218.53 102.88 L219.69 102.65 L220.86 102.45 L222.03 102.28 L223.20 102.13 L224.38 102.01 L225.57 101.92 L226.76 101.85 L227.96 101.82Z" fill="none" stroke-width="1.35" stroke-dasharray="6.2 5.6" stroke-dashoffset="3" clip-path="url(#cdash)"/>
<path d="M250.12 111.53 L250.40 111.96 L250.68 112.41 L250.95 112.86 L251.21 113.31 L251.46 113.76 L251.71 114.22 L251.94 114.68 L252.17 115.15 L252.39 115.61 L252.61 116.08 L252.81 116.55 L253.01 117.02 L253.20 117.50 L253.38 117.97 L253.55 118.45 L253.72 118.93 L253.87 119.41 L254.02 119.90 L254.16 120.38 L254.30 120.87 L254.42 121.35 L254.54 121.84 L254.64 122.33 L254.74 122.82 L254.84 123.31 L254.92 123.80 L254.99 124.30 L255.06 124.79 L255.12 125.28 L255.17 125.78 L255.21 126.27 L255.25 126.76 L255.27 127.26 L255.29 127.75 L255.30 128.24 L255.30 128.73 L255.29 129.23 L255.27 129.72 L255.25 130.21 L255.21 130.70 L255.18 131.19 L255.13 131.68 L255.07 132.17 L255.01 132.66 L254.95 133.15 L254.88 133.64 L254.80 134.12 L254.72 134.61 L254.63 135.10 L254.54 135.59 L254.45 136.08 L254.35 136.56 L254.25 137.05 L254.15 137.54 L254.05 138.03 L253.94 138.52 L253.83 139.00 L253.72 139.49 L253.62 139.98 L253.51 140.47 L253.40 140.96 L253.29 141.45 L253.18 141.94 L253.07 142.43 L252.96 142.93 L252.85 143.42 L252.74 143.91 L252.62 144.40 L252.51 144.89 L252.40 145.38 L252.29 145.87 L252.17 146.37 L252.06 146.86 L251.94 147.35 L251.82 147.84 L251.71 148.33 L251.59 148.82 L251.47 149.31 L251.34 149.80 L251.22 150.29 L251.10 150.78 L250.97 151.27 L250.84 151.75 L250.71 152.24 L250.58 152.73 L250.45 153.21 L250.31 153.70" fill="none" stroke-width="1.35" stroke-dasharray="5 4.5"/>
</g>
<rect x="238.50" y="155.60" width="34.20" height="9.70" fill="#fff"/>
<rect x="337.60" y="65.30" width="26.28" height="11.50" fill="#fff"/>
<text font-size="14.6" text-anchor="start" transform="translate(263.60 133.81) rotate(-42.00) scale(1 1.030)" class="h">Melt Metasom</text>
<rect x="128.5" y="192.5" width="61" height="16" fill="#fff"/>
<text font-size="14.6" text-anchor="start" transform="translate(130.30 205.20) scale(1 1.030)">Depleted</text>
<line x1="129.75" y1="127.40" x2="264.70" y2="68.40" stroke="#000" stroke-width="1.4"/><path d="M270.20 66.00 L262.94 73.10 L263.24 69.04 L260.05 66.51 Z"/>
<text font-size="13.6" text-anchor="start" transform="translate(106.62 141.50) scale(1 1.030)">cores</text>
<text font-size="13.6" text-anchor="start" transform="translate(268.78 63.80) scale(1 1.030)">rims</text>
<text font-size="14.6" text-anchor="start" transform="translate(120.68 115.04) rotate(-21.50) scale(1 1.030)">Phlogopite Metasom.</text>
<line x1="269.80" y1="152.50" x2="343.64" y2="82.72" stroke="#000" stroke-width="1.4"/><path d="M348.00 78.60 L343.57 87.74 L342.48 83.82 L338.62 82.51 Z"/>
<text font-size="13.6" text-anchor="start" transform="translate(238.92 164.10) scale(1 1.030)">cores</text>
<text font-size="13.6" text-anchor="start" transform="translate(337.68 75.60) scale(1 1.030)">rims</text>
<text font-size="14.6" text-anchor="start" transform="translate(263.60 133.81) rotate(-42.00) scale(1 1.030)">Melt Metasom</text>
<rect x="52.00" y="1.00" width="321.20" height="299.70" fill="none" stroke="#000" stroke-width="2"/>
<line x1="52" y1="78.30" x2="57" y2="78.30" stroke="#000" stroke-width="1.3"/>
<line x1="52" y1="191.90" x2="57" y2="191.90" stroke="#000" stroke-width="1.3"/>
<line x1="192.70" y1="300.7" x2="192.70" y2="295.8" stroke="#000" stroke-width="1.3"/>
<line x1="330.50" y1="300.7" x2="330.50" y2="295.8" stroke="#000" stroke-width="1.3"/>
<text font-size="14.6" text-anchor="start" transform="translate(21.80 83.75) scale(1 1.030)">100</text>
<text font-size="14.6" text-anchor="start" transform="translate(30.11 198.50) scale(1 1.030)">10</text>
<text font-size="14.6" text-anchor="start" transform="translate(38.41 303.90) scale(1 1.030)">1</text>
<text font-size="14.6" text-anchor="start" transform="translate(43.11 317.50) scale(1 1.030)">100</text>
<text font-size="14.6" text-anchor="start" transform="translate(177.21 317.50) scale(1 1.030)">1000</text>
<text font-size="14.6" text-anchor="start" transform="translate(312.00 317.50) scale(1 1.030)">10000</text>
<text font-size="14.6" transform="translate(173.9 337.9) scale(1 1.030)">TiO<tspan font-size="10" dy="4">2</tspan><tspan dy="-4"> (ppm)</tspan></text>
<text font-size="14.6" text-anchor="start" transform="translate(11.90 179.07) rotate(-90.00) scale(1 1.030)">Zr (ppm)</text>
<g clip-path="url(#cbot)" stroke="#000" stroke-width="1.5" stroke-linejoin="round">
<path d="M152.98 351.98 L153.13 353.20 L153.27 354.43 L153.39 355.65 L153.49 356.87 L153.58 358.09 L153.65 359.30 L153.71 360.52 L153.75 361.73 L153.78 362.94 L153.79 364.15 L153.79 365.36 L153.77 366.57 L153.74 367.77 L153.70 368.98 L153.65 370.18 L153.58 371.38 L153.51 372.58 L153.42 373.78 L153.32 374.98 L153.21 376.18 L153.09 377.38 L152.96 378.58 L152.83 379.77 L152.68 380.97 L152.53 382.16 L152.37 383.35 L152.20 384.54 L152.02 385.74 L151.84 386.93 L151.65 388.12 L151.45 389.31 L151.25 390.50 L151.05 391.69 L150.84 392.88 L150.62 394.07 L150.40 395.26 L150.18 396.44 L149.96 397.63 L149.73 398.82 L149.50 400.01 L149.27 401.20 L149.03 402.39 L148.80 403.57 L148.56 404.76 L148.33 405.95 L148.09 407.14 L147.86 408.33 L147.63 409.52 L147.39 410.71 L147.16 411.90 L146.93 413.09 L146.71 414.28 L146.48 415.47 L146.26 416.67 L146.04 417.86 L145.82 419.05 L145.61 420.25 L145.39 421.44 L145.18 422.63 L144.97 423.83 L144.75 425.02 L144.54 426.21 L144.33 427.41 L144.11 428.60 L143.90 429.79 L143.69 430.99 L143.47 432.18 L143.26 433.37 L143.04 434.56 L142.82 435.75 L142.60 436.94 L142.37 438.13 L142.15 439.32 L141.92 440.50 L141.69 441.69 L141.45 442.87 L141.21 444.06 L140.97 445.24 L140.73 446.42 L140.48 447.60 L140.22 448.78 L139.96 449.95 L139.70 451.13 L139.43 452.30 L139.15 453.47 L138.87 454.64 L138.59 455.81 L138.30 456.98 L138.00 458.14 L137.69 459.31 L137.38 460.47 L137.06 461.63 L136.73 462.78 L136.40 463.93 L136.06 465.09 L135.71 466.24 L135.35 467.38 L134.98 468.53 L134.61 469.67 L134.22 470.80 L133.83 471.94 L133.42 473.07 L133.01 474.20 L132.59 475.33 L132.15 476.45 L131.71 477.57 L131.26 478.69 L130.79 479.81 L130.32 480.92 L129.84 482.02 L129.35 483.13 L128.84 484.23 L128.33 485.33 L127.81 486.42 L127.28 487.51 L126.74 488.59 L126.19 489.67 L125.63 490.75 L125.06 491.83 L124.48 492.89 L123.89 493.96 L123.29 495.02 L122.68 496.08 L122.06 497.13 L121.43 498.18 L120.79 499.22 L120.14 500.26 L119.48 501.29 L118.81 502.32 L118.13 503.34 L117.44 504.36 L116.74 505.37 L116.03 506.38 L115.31 507.37 L114.58 508.36 L113.84 509.34 L113.09 510.31 L112.32 511.27 L111.55 512.22 L110.76 513.16 L109.97 514.08 L109.16 515.00 L108.34 515.89 L107.51 516.78 L106.66 517.65 L105.80 518.50 L104.94 519.34 L104.05 520.17 L103.16 520.97 L102.25 521.76 L101.33 522.53 L100.40 523.28 L99.46 524.00 L98.50 524.71 L97.52 525.40 L96.54 526.07 L95.54 526.71 L94.52 527.33 L93.50 527.93 L92.46 528.50 L91.41 529.05 L90.35 529.58 L89.27 530.08 L88.19 530.56 L87.09 531.02 L85.99 531.45 L84.87 531.86 L83.75 532.24 L82.61 532.60 L81.47 532.93 L80.32 533.23 L79.17 533.52 L78.00 533.77 L76.83 534.00 L75.66 534.20 L74.47 534.38 L73.29 534.53 L72.09 534.66 L70.90 534.75 L69.69 534.83 L68.49 534.87 L67.28 534.88 L66.07 534.87 L64.86 534.83 L63.64 534.77 L62.43 534.67 L61.21 534.55 L59.99 534.40 L58.77 534.22 L57.55 534.01 L56.33 533.77 L55.12 533.50 L53.90 533.20 L52.69 532.87 L51.48 532.52 L50.27 532.13 L49.06 531.71 L47.86 531.26" fill="none"/>
<path d="M384.89 409.77 L383.79 410.24 L382.68 410.71 L381.57 411.18 L380.46 411.64 L379.35 412.11 L378.24 412.58 L377.12 413.04 L376.01 413.50 L374.90 413.97 L373.79 414.43 L372.67 414.89 L371.56 415.34 L370.44 415.80 L369.33 416.26 L368.21 416.71 L367.10 417.17 L365.98 417.62 L364.86 418.07 L363.75 418.53 L362.63 418.98 L361.51 419.43 L360.39 419.87 L359.27 420.32 L358.15 420.77 L357.03 421.22 L355.91 421.66 L354.79 422.11 L353.67 422.55 L352.55 423.00 L351.43 423.44 L350.31 423.88 L349.19 424.32 L348.07 424.76 L346.94 425.20 L345.82 425.64 L344.70 426.08 L343.58 426.52 L342.45 426.96 L341.33 427.40 L340.21 427.83 L339.08 428.27 L337.96 428.71 L336.83 429.14 L335.71 429.58 L334.58 430.02 L333.46 430.45 L332.33 430.89 L331.21 431.32 L330.08 431.75 L328.96 432.19 L327.83 432.62 L326.71 433.06 L325.58 433.49 L324.45 433.92 L323.33 434.36 L322.20 434.79 L321.08 435.23 L319.95 435.66 L318.83 436.09 L317.70 436.53 L316.58 436.97 L315.45 437.40 L314.33 437.84 L313.20 438.28 L312.08 438.71 L310.95 439.15 L309.83 439.59 L308.71 440.03 L307.58 440.47 L306.46 440.92 L305.34 441.36 L304.22 441.80 L303.10 442.25 L301.98 442.69 L300.86 443.14 L299.74 443.59 L298.62 444.04 L297.50 444.50 L296.38 444.95 L295.26 445.40 L294.15 445.86 L293.03 446.32 L291.92 446.78 L290.80 447.24 L289.69 447.71 L288.58 448.17 L287.47 448.64 L286.36 449.11 L285.25 449.58 L284.14 450.06 L283.03 450.54 L281.92 451.02 L280.82 451.50 L279.71 451.98 L278.61 452.47 L277.51 452.96 L276.41 453.45 L275.31 453.94 L274.21 454.44 L273.11 454.94 L272.01 455.44 L270.92 455.94 L269.82 456.45 L268.73 456.96 L267.64 457.47 L266.55 457.99 L265.46 458.50 L264.37 459.02 L263.28 459.54 L262.20 460.07 L261.11 460.59 L260.03 461.12 L258.95 461.66 L257.87 462.19 L256.79 462.73 L255.71 463.27 L254.63 463.81 L253.56 464.36 L252.49 464.91 L251.41 465.46 L250.34 466.01 L249.27 466.56 L248.20 467.12 L247.14 467.68 L246.07 468.25 L245.01 468.81 L243.95 469.38 L242.89 469.96 L241.83 470.53 L240.77 471.11 L239.71 471.69 L238.66 472.27 L237.61 472.85 L236.55 473.44 L235.50 474.03 L234.46 474.63 L233.41 475.22 L232.36 475.82 L231.32 476.42 L230.28 477.03 L229.24 477.63 L228.20 478.24 L227.16 478.86 L226.13 479.47 L225.09 480.09 L224.06 480.71 L223.03 481.34 L222.00 481.96 L220.98 482.59 L219.95 483.22 L218.93 483.86 L217.91 484.50 L216.89 485.14 L215.87 485.78 L214.86 486.43 L213.84 487.07 L212.83 487.73 L211.82 488.38 L210.81 489.04 L209.81 489.70 L208.80 490.36 L207.80 491.03 L206.80 491.70 L205.80 492.37 L204.80 493.04 L203.81 493.72 L202.82 494.40 L201.82 495.09 L200.84 495.77 L199.85 496.46 L198.86 497.15 L197.88 497.85 L196.90 498.55 L195.92 499.25 L194.95 499.95 L193.97 500.66 L193.00 501.37 L192.03 502.08 L191.06 502.80 L190.09 503.51 L189.13 504.24 L188.17 504.96 L187.21 505.69 L186.25 506.42 L185.30 507.15 L184.34 507.89 L183.39 508.62 L182.44 509.37 L181.49 510.11 L180.55 510.86 L179.60 511.60 L178.66 512.36 L177.72 513.11 L176.79 513.87 L175.85 514.63 L174.92 515.39 L173.99 516.16 L173.06 516.92 L172.13 517.69 L171.20 518.47 L170.28 519.24 L169.36 520.02 L168.44 520.80 L167.52 521.58 L166.61 522.37 L165.69 523.15 L164.78 523.94 L163.87 524.74 L162.96 525.53 L162.06 526.33 L161.16 527.13 L160.25 527.93 L159.35 528.73 L158.46 529.54 L157.56 530.35 L156.66 531.16 L155.77 531.97 L154.88 532.79 L153.99 533.60 L153.11 534.42 L152.22 535.24 L151.34 536.07 L150.46 536.89 L149.58 537.72 L148.70 538.55 L147.83 539.38 L146.95 540.22 L146.08 541.05 L145.21 541.89 L144.34 542.73 L143.48 543.57 L142.61 544.42 L141.75 545.26 L140.89 546.11 L140.03 546.96 L139.17 547.81 L138.32 548.66 L137.46 549.52 L136.61 550.38 L135.76 551.23 L134.91 552.10 L134.07 552.96 L133.22 553.82 L132.38 554.69 L131.54 555.55 L130.70 556.42 L129.86 557.29 L129.03 558.17 L128.19 559.04 L127.36 559.92 L126.53 560.79 L125.70 561.67 L124.87 562.55 L124.05 563.43 L123.22 564.32 L122.40 565.20 L121.58 566.09 L120.76 566.98 L119.94 567.87 L119.13 568.76 L118.32 569.65 L117.50 570.54 L116.69 571.44 L115.89 572.33 L115.08 573.23 L114.27 574.13 L113.47 575.03 L112.67 575.93 L111.87 576.83 L111.07 577.74 L110.27 578.64 L109.48 579.55 L108.68 580.45 L107.89 581.36 L107.10 582.27 L106.31 583.18 L105.52 584.10 L104.74 585.01 L103.95 585.92 L103.17 586.84 L102.39 587.75 L101.61 588.67 L100.83 589.59 L100.05 590.51 L99.28 591.43 L98.51 592.35 L97.73 593.27 L96.96 594.19 L96.19 595.12 L95.43 596.04 L94.66 596.97 L93.90 597.89 L93.14 598.82 L92.37 599.75 L91.61 600.68 L90.86 601.61 L90.10 602.54 L89.35 603.47 L88.59 604.40 L87.84 605.33 L87.09 606.26 L86.34 607.20 L85.59 608.13 L84.85 609.07 L84.10 610.00 L83.36 610.94 L82.62 611.88 L94.92 618.39 L96.08 618.88 L97.24 619.33 L98.41 619.74 L99.57 620.11 L100.74 620.46 L101.91 620.76 L103.08 621.04 L104.25 621.28 L105.42 621.49 L106.60 621.67 L107.77 621.82 L108.95 621.94 L110.13 622.04 L111.31 622.10 L112.49 622.15 L113.67 622.16 L114.85 622.16 L116.03 622.13 L117.22 622.08 L118.40 622.00 L119.58 621.91 L120.77 621.80 L121.95 621.67 L123.14 621.52 L124.32 621.36 L125.51 621.18 L126.69 620.98 L127.87 620.78 L129.06 620.56 L130.24 620.33 L131.42 620.08 L132.60 619.83 L133.78 619.57 L134.96 619.30 L136.14 619.03 L137.32 618.74 L138.50 618.45 L139.67 618.16 L140.85 617.86 L142.02 617.55 L143.20 617.23 L144.37 616.91 L145.54 616.59 L146.71 616.26 L147.88 615.92 L149.04 615.58 L150.21 615.24 L151.37 614.89 L152.54 614.53 L153.70 614.17 L154.86 613.81 L156.02 613.44 L157.18 613.07 L158.34 612.69 L159.49 612.31 L160.65 611.93 L161.80 611.55 L162.95 611.16 L164.10 610.77 L165.25 610.37 L166.40 609.98 L167.54 609.58 L168.69 609.18 L169.83 608.77 L170.97 608.37 L172.11 607.96 L173.25 607.55 L174.39 607.14 L175.52 606.73 L176.65 606.31 L177.79 605.90 L178.92 605.48 L180.05 605.06 L181.17 604.63 L182.30 604.21 L183.42 603.78 L184.54 603.34 L185.66 602.91 L186.78 602.47 L187.90 602.03 L189.02 601.59 L190.13 601.14 L191.24 600.69 L192.35 600.23 L193.46 599.78 L194.57 599.32 L195.68 598.85 L196.78 598.38 L197.88 597.91 L198.98 597.43 L200.08 596.95 L201.18 596.47 L202.27 595.98 L203.37 595.49 L204.46 594.99 L205.55 594.49 L206.64 593.98 L207.73 593.47 L208.81 592.95 L209.89 592.43 L210.97 591.90 L212.05 591.37 L213.13 590.83 L214.21 590.29 L215.28 589.75 L216.36 589.20 L217.43 588.64 L218.50 588.08 L219.56 587.52 L220.63 586.95 L221.69 586.38 L222.76 585.80 L223.82 585.23 L224.88 584.64 L225.94 584.06 L226.99 583.47 L228.05 582.88 L229.10 582.28 L230.16 581.68 L231.21 581.08 L232.26 580.48 L233.31 579.87 L234.35 579.26 L235.40 578.65 L236.44 578.04 L237.48 577.42 L238.52 576.80 L239.56 576.18 L240.60 575.55 L241.63 574.92 L242.66 574.29 L243.69 573.66 L244.72 573.02 L245.75 572.38 L246.77 571.74 L247.79 571.09 L248.81 570.44 L249.83 569.79 L250.84 569.13 L251.85 568.47 L252.86 567.81 L253.87 567.14 L254.87 566.47 L255.87 565.80 L256.87 565.12 L257.87 564.44 L258.86 563.75 L259.85 563.07 L260.84 562.37 L261.82 561.68 L262.80 560.98 L263.78 560.27 L264.76 559.56 L265.73 558.85 L266.69 558.13 L267.66 557.41 L268.62 556.69 L269.58 555.96 L270.53 555.22 L271.48 554.48 L272.43 553.74 L273.37 552.99 L274.31 552.24 L275.25 551.48 L276.18 550.72 L277.11 549.95 L278.03 549.18 L278.95 548.40 L279.87 547.62 L280.78 546.84 L281.69 546.04 L282.59 545.25 L283.49 544.45 L284.39 543.64 L285.28 542.83 L286.17 542.01 L287.06 541.19 L287.94 540.37 L288.82 539.54 L289.69 538.71 L290.56 537.88 L291.43 537.04 L292.30 536.20 L293.16 535.35 L294.02 534.50 L294.88 533.65 L295.74 532.80 L296.59 531.94 L297.44 531.08 L298.29 530.22 L299.14 529.36 L299.98 528.49 L300.83 527.62 L301.67 526.75 L302.51 525.88 L303.34 525.01 L304.18 524.13 L305.02 523.26 L305.85 522.38 L306.68 521.50 L307.52 520.62 L308.35 519.74 L309.18 518.86 L310.01 517.98 L310.84 517.10 L311.67 516.22 L312.49 515.34 L313.32 514.46 L314.15 513.57 L314.98 512.69 L315.80 511.81 L316.63 510.92 L317.45 510.04 L318.28 509.16 L319.10 508.27 L319.92 507.39 L320.75 506.50 L321.57 505.62 L322.39 504.73 L323.21 503.84 L324.03 502.96 L324.85 502.07 L325.67 501.18 L326.49 500.30 L327.31 499.41 L328.13 498.52 L328.95 497.64 L329.77 496.75 L330.58 495.86 L331.40 494.97 L332.22 494.08 L333.03 493.19 L333.85 492.30 L334.67 491.41 L335.48 490.52 L336.30 489.63 L337.11 488.74 L337.93 487.85 L338.74 486.96 L339.55 486.07 L340.37 485.18 L341.18 484.29 L341.99 483.40 L342.81 482.50 L343.62 481.61 L344.43 480.72 L345.24 479.83 L346.06 478.94 L346.87 478.04 L347.68 477.15 L348.49 476.26 L349.30 475.36 L350.11 474.47 L350.92 473.58 L351.74 472.68 L352.55 471.79 L353.36 470.90 L354.17 470.00 L354.98 469.11 L355.79 468.21 L356.60 467.32 L357.41 466.42 L358.22 465.53 L359.03 464.63 L359.84 463.74 L360.65 462.84 L361.46 461.95 L362.27 461.05 L363.08 460.16 L363.89 459.26 L364.69 458.37 L365.50 457.47 L366.31 456.57 L367.12 455.68 L367.93 454.78 L368.74 453.89 L369.55 452.99 L370.36 452.09 L371.17 451.20 L371.98 450.30 L372.79 449.40 L373.60 448.51 L374.41 447.61 L375.22 446.71 L376.03 445.82 L376.84 444.92 L377.65 444.02 L378.46 443.13 L379.27 442.23 L380.09 441.33 L380.90 440.44 L381.71 439.54 L382.52 438.64 L383.33 437.75 L384.14 436.85 L384.96 435.95Z" fill="url(#dots)"/>
<path d="M384.96 457.97 L384.18 458.89 L383.39 459.80 L382.61 460.72 L381.82 461.63 L381.02 462.54 L380.22 463.44 L379.43 464.35 L378.62 465.25 L377.82 466.15 L377.01 467.05 L376.20 467.94 L375.39 468.84 L374.58 469.73 L373.76 470.62 L372.94 471.50 L372.12 472.39 L371.30 473.28 L370.48 474.16 L369.66 475.04 L368.83 475.92 L368.01 476.80 L367.18 477.68 L366.35 478.56 L365.52 479.44 L364.69 480.32 L363.86 481.19 L363.03 482.07 L362.20 482.94 L361.36 483.82 L360.53 484.69 L359.70 485.57 L358.87 486.44 L358.04 487.32 L357.20 488.20 L356.37 489.07 L355.54 489.95 L354.71 490.82 L353.88 491.70 L353.05 492.58 L352.22 493.46 L351.40 494.34 L350.57 495.22 L349.74 496.10 L348.92 496.98 L348.10 497.87 L347.28 498.75 L346.46 499.64 L345.64 500.53 L344.83 501.42 L344.01 502.31 L343.20 503.21 L342.39 504.10 L341.59 505.00 L340.78 505.90 L339.98 506.81 L339.18 507.71 L338.39 508.62 L337.59 509.53 L336.80 510.44 L336.02 511.36 L335.23 512.28 L334.45 513.20 L333.67 514.12 L332.89 515.04 L332.12 515.97 L331.34 516.90 L330.57 517.83 L329.80 518.76 L329.03 519.69 L328.27 520.62 L327.50 521.55 L326.73 522.49 L325.97 523.42 L325.20 524.35 L324.44 525.29 L323.68 526.22 L322.91 527.16 L322.15 528.09 L321.38 529.02 L320.62 529.95 L319.85 530.89 L319.08 531.82 L318.32 532.75 L317.55 533.67 L316.78 534.60 L316.00 535.52 L315.23 536.44 L314.45 537.36 L313.68 538.28 L312.90 539.20 L312.11 540.11 L311.33 541.02 L310.54 541.93 L309.75 542.83 L308.95 543.73 L308.16 544.63 L307.35 545.52 L306.55 546.41 L305.74 547.29 L304.92 548.17 L304.10 549.04 L303.27 549.91 L302.43 550.77 L301.59 551.63 L300.74 552.48 L299.89 553.33 L299.03 554.17 L298.16 555.00 L297.29 555.83 L296.41 556.65 L295.53 557.47 L294.64 558.28 L293.75 559.09 L292.85 559.90 L291.95 560.70 L291.04 561.49 L290.12 562.28 L289.21 563.06 L288.28 563.84 L287.36 564.62 L286.43 565.39 L285.49 566.15 L284.55 566.91 L283.61 567.67 L282.66 568.42 L281.71 569.17 L280.75 569.92 L279.80 570.66 L278.83 571.40 L277.87 572.13 L276.90 572.86 L275.93 573.58 L274.95 574.30 L273.97 575.01 L272.99 575.71 L272.00 576.41 L271.01 577.10 L270.01 577.79 L269.01 578.47 L268.01 579.14 L267.00 579.81 L265.99 580.46 L264.98 581.11 L263.96 581.76 L262.94 582.40 L261.91 583.03 L260.88 583.65 L259.85 584.27 L258.82 584.89 L257.78 585.49 L256.74 586.10 L255.69 586.69 L254.64 587.28 L253.59 587.87 L252.54 588.45 L251.49 589.03 L250.43 589.60 L249.37 590.16 L248.30 590.72 L247.24 591.28 L246.17 591.83 L245.10 592.38 L244.02 592.92 L242.95 593.46 L241.87 594.00 L240.79 594.53 L239.71 595.06 L238.62 595.58 L237.54 596.11 L236.45 596.62 L235.36 597.14 L234.27 597.65 L233.17 598.15 L232.08 598.66 L230.98 599.16 L229.88 599.65 L228.78 600.15 L227.67 600.64 L226.57 601.12 L225.46 601.60 L224.36 602.08 L223.25 602.56 L222.13 603.03 L221.02 603.49 L219.91 603.96 L218.79 604.42 L217.67 604.88 L216.55 605.33 L215.43 605.78 L214.31 606.22 L213.18 606.66 L212.05 607.10 L210.93 607.54 L209.80 607.97 L208.67 608.40 L207.54 608.82 L206.40 609.24 L205.27 609.65 L204.13 610.07 L202.99 610.48 L201.85 610.88 L200.71 611.28 L199.57 611.68 L198.43 612.07 L197.28 612.46 L196.14 612.85 L194.99 613.23 L193.84 613.61 L192.70 613.99 L191.55 614.36 L190.39 614.72 L189.24 615.09 L188.09 615.45 L186.93 615.80 L185.78 616.16 L184.62 616.50 L183.46 616.85 L182.30 617.19 L181.14 617.53 L179.98 617.86 L178.82 618.19 L177.66 618.52 L176.49 618.84 L175.33 619.16 L174.16 619.47 L172.99 619.78 L171.83 620.09 L170.66 620.39 L169.49 620.69 L168.32 620.98 L167.15 621.27 L165.98 621.56 L164.80 621.84 L163.63 622.12 L162.46 622.39 L161.28 622.66 L160.11 622.92 L158.93 623.18 L157.75 623.43 L156.57 623.67 L155.39 623.91 L154.21 624.15 L153.03 624.38 L151.85 624.60 L150.66 624.81 L149.48 625.02 L148.30 625.22 L147.11 625.42 L145.92 625.61 L144.73 625.79 L143.55 625.97 L142.36 626.13 L141.16 626.29 L139.97 626.44 L138.78 626.59 L137.59 626.72 L136.39 626.85 L135.19 626.97 L134.00 627.08 L132.80 627.18 L131.60 627.28 L130.40 627.36 L129.20 627.43 L128.00 627.50 L126.79 627.56 L125.59 627.60 L124.38 627.64 L123.18 627.67 L121.97 627.69 L120.76 627.69 L119.55 627.69 L118.34 627.67 L117.12 627.65 L115.91 627.61 L114.70 627.57 L113.48 627.51 L112.26 627.44 L111.05 627.36 L109.83 627.27 L108.61 627.17 L107.38 627.05 L106.16 626.92 L104.94 626.78 L105.01 651.09 L106.22 651.05 L107.44 651.01 L108.65 650.97 L109.86 650.93 L111.07 650.90 L112.29 650.87 L113.50 650.84 L114.71 650.80 L115.93 650.78 L117.14 650.75 L118.35 650.72 L119.57 650.70 L120.78 650.67 L122.00 650.65 L123.21 650.63 L124.42 650.60 L125.64 650.58 L126.85 650.56 L128.07 650.55 L129.28 650.53 L130.50 650.51 L131.71 650.50 L132.93 650.48 L134.14 650.47 L135.36 650.45 L136.57 650.44 L137.79 650.43 L139.00 650.41 L140.22 650.40 L141.43 650.39 L142.65 650.38 L143.86 650.37 L145.08 650.36 L146.30 650.35 L147.51 650.34 L148.73 650.34 L149.94 650.33 L151.16 650.32 L152.37 650.31 L153.59 650.30 L154.81 650.30 L156.02 650.29 L157.24 650.28 L158.46 650.27 L159.67 650.27 L160.89 650.26 L162.10 650.25 L163.32 650.24 L164.54 650.24 L165.75 650.23 L166.97 650.22 L168.19 650.21 L169.40 650.20 L170.62 650.19 L171.83 650.19 L173.05 650.18 L174.27 650.17 L175.48 650.15 L176.70 650.14 L177.92 650.13 L179.13 650.12 L180.35 650.11 L181.56 650.09 L182.78 650.08 L184.00 650.06 L185.21 650.05 L186.43 650.03 L187.64 650.02 L188.86 650.00 L190.08 649.98 L191.29 649.96 L192.51 649.94 L193.72 649.92 L194.94 649.89 L196.15 649.87 L197.37 649.84 L198.59 649.82 L199.80 649.79 L201.02 649.76 L202.23 649.73 L203.45 649.70 L204.66 649.67 L205.88 649.64 L207.09 649.60 L208.31 649.57 L209.52 649.53 L210.74 649.49 L211.95 649.45 L213.16 649.41 L214.38 649.36 L215.59 649.32 L216.81 649.27 L218.02 649.22 L219.23 649.17 L220.45 649.12 L221.66 649.06 L222.88 649.01 L224.09 648.95 L225.30 648.89 L226.52 648.83 L227.73 648.77 L228.94 648.70 L230.15 648.63 L231.37 648.56 L232.58 648.49 L233.79 648.42 L235.00 648.34 L236.21 648.26 L237.43 648.18 L238.64 648.10 L239.85 648.01 L241.06 647.93 L242.27 647.84 L243.48 647.75 L244.69 647.65 L245.90 647.55 L247.11 647.45 L248.32 647.35 L249.53 647.25 L250.74 647.14 L251.95 647.03 L253.16 646.92 L254.37 646.80 L255.58 646.68 L256.79 646.56 L258.00 646.44 L259.20 646.31 L260.41 646.18 L261.62 646.05 L262.83 645.91 L264.03 645.77 L265.24 645.63 L266.45 645.49 L267.65 645.34 L268.86 645.19 L270.07 645.03 L271.27 644.88 L271.22 644.67 L272.29 644.07 L273.34 643.45 L274.37 642.81 L275.38 642.15 L276.38 641.47 L277.36 640.77 L278.33 640.05 L279.27 639.32 L280.21 638.56 L281.13 637.80 L282.04 637.02 L282.93 636.22 L283.81 635.41 L284.68 634.59 L285.54 633.75 L286.39 632.90 L287.23 632.05 L288.06 631.18 L288.88 630.30 L289.69 629.41 L290.50 628.52 L291.30 627.62 L292.09 626.71 L292.87 625.79 L293.65 624.87 L294.43 623.95 L295.20 623.02 L295.97 622.09 L296.73 621.15 L297.49 620.21 L298.25 619.27 L299.00 618.33 L299.76 617.39 L300.51 616.44 L301.25 615.49 L302.00 614.53 L302.74 613.58 L303.48 612.62 L304.21 611.66 L304.95 610.70 L305.68 609.74 L306.41 608.78 L307.14 607.81 L307.87 606.84 L308.59 605.87 L309.31 604.90 L310.04 603.93 L310.76 602.96 L311.48 601.98 L312.19 601.01 L312.91 600.03 L313.63 599.06 L314.34 598.08 L315.05 597.10 L315.77 596.12 L316.48 595.14 L317.19 594.16 L317.90 593.18 L318.61 592.20 L319.32 591.22 L320.03 590.23 L320.74 589.25 L321.45 588.27 L322.16 587.29 L322.87 586.31 L323.58 585.33 L324.29 584.35 L325.00 583.37 L325.71 582.39 L326.42 581.41 L327.14 580.43 L327.85 579.45 L328.56 578.48 L329.28 577.50 L330.00 576.53 L330.71 575.55 L331.43 574.58 L332.15 573.61 L332.86 572.63 L333.58 571.66 L334.30 570.69 L335.02 569.72 L335.74 568.75 L336.46 567.78 L337.18 566.81 L337.91 565.84 L338.63 564.87 L339.35 563.90 L340.07 562.93 L340.79 561.97 L341.51 561.00 L342.24 560.03 L342.96 559.06 L343.68 558.09 L344.40 557.13 L345.12 556.16 L345.84 555.19 L346.57 554.22 L347.29 553.25 L348.01 552.29 L348.73 551.32 L349.45 550.35 L350.17 549.38 L350.89 548.41 L351.61 547.44 L352.33 546.47 L353.05 545.50 L353.76 544.53 L354.48 543.56 L355.20 542.59 L355.91 541.62 L356.63 540.65 L357.34 539.67 L358.06 538.70 L358.77 537.73 L359.48 536.75 L360.19 535.78 L360.90 534.80 L361.61 533.82 L362.32 532.85 L363.03 531.87 L363.73 530.89 L364.44 529.91 L365.14 528.92 L365.85 527.94 L366.55 526.96 L367.25 525.97 L367.95 524.99 L368.64 524.00 L369.34 523.01 L370.03 522.02 L370.73 521.03 L371.42 520.04 L372.11 519.05 L372.80 518.06 L373.48 517.06 L374.17 516.06 L374.85 515.07 L375.53 514.07 L376.21 513.06 L376.89 512.06 L377.57 511.06 L378.24 510.05 L378.91 509.04 L379.58 508.03 L380.25 507.02 L380.92 506.01 L381.58 505.00 L382.25 503.98 L382.91 502.96 L383.56 501.94 L384.22 500.92 L384.87 499.89Z" fill="#d6d6d6"/>
<path d="M48.21 616.26 L49.31 615.97 L50.42 615.70 L51.55 615.43 L52.69 615.18 L53.84 614.93 L55.00 614.70 L56.18 614.47 L57.36 614.26 L58.56 614.06 L59.76 613.87 L60.97 613.70 L62.19 613.53 L63.42 613.39 L64.65 613.25 L65.89 613.13 L67.13 613.03 L68.38 612.94 L69.63 612.87 L70.88 612.81 L72.14 612.77 L73.40 612.75 L74.65 612.75 L75.91 612.76 L77.17 612.80 L78.42 612.85 L79.67 612.92 L80.92 613.01 L82.17 613.12 L83.41 613.26 L84.65 613.41 L85.88 613.59 L87.10 613.79 L88.32 614.01 L89.53 614.25 L90.73 614.52 L91.92 614.81 L93.11 615.13 L94.28 615.47 L95.44 615.84 L96.58 616.23 L97.72 616.65 L98.84 617.10 L99.95 617.57 L101.04 618.08 L102.12 618.60 L103.18 619.16 L104.22 619.75 L105.25 620.37 L106.26 621.01 L107.24 621.69 L108.21 622.40 L109.16 623.14 L110.09 623.91 L110.99 624.71 L111.88 625.55 L112.74 626.41 L113.57 627.31 L114.37 628.24 L115.13 629.20 L115.86 630.18 L116.55 631.19 L117.19 632.23 L117.79 633.28 L118.34 634.36 L118.83 635.47 L119.27 636.59 L119.66 637.73 L119.97 638.88 L120.23 640.05 L120.41 641.24 L120.53 642.44 L120.57 643.65 L120.54 644.88 L120.45 646.11 L120.31 647.35 L120.12 648.59 L119.91 649.83 L119.66 651.08 L119.40 652.32 L119.14 653.56 L118.87 654.80 L118.62 656.03 L118.39 657.25 L118.18 658.45 L118.01 659.65 L117.88 660.83 L117.81 661.99 L48.00 662.00Z" fill="url(#hatch)"/>
</g>
<rect x="135.25" y="583.20" width="34.20" height="9.70" fill="#fff"/>
<rect x="259.40" y="499.80" width="26.28" height="11.50" fill="#fff"/>
<text font-size="14.6" text-anchor="start" transform="translate(147.12 568.40) rotate(-35.70) scale(1 1.030)" class="h">Melt Metasomatism</text>
<rect x="55" y="630.5" width="61" height="16" fill="#fff"/>
<text font-size="14.6" text-anchor="start" transform="translate(55.10 643.75) scale(1 1.030)">Depleted</text>
<line x1="158.30" y1="578.50" x2="252.87" y2="513.02" stroke="#000" stroke-width="1.4"/><path d="M257.80 509.60 L252.04 517.97 L251.55 513.93 L247.94 512.05 Z"/>
<text font-size="13.6" text-anchor="start" transform="translate(135.67 591.70) scale(1 1.030)">cores</text>
<text font-size="13.6" text-anchor="start" transform="translate(259.48 510.10) scale(1 1.030)">rims</text>
<text font-size="14.6" text-anchor="start" transform="translate(147.12 568.40) rotate(-35.70) scale(1 1.030)">Melt Metasomatism</text>
<path d="M180.00 641.70 C185.83 640.58 203.33 638.28 215.00 635.00 C226.67 631.72 239.17 627.83 250.00 622.00 C260.83 616.17 271.33 607.83 280.00 600.00 C288.67 592.17 298.33 579.17 302.00 575.00" fill="none" stroke="#000" stroke-width="1.4"/>
<path d="M306.40 569.20 L303.45 578.92 L301.76 575.22 L297.75 574.52 Z"/>
<text font-size="13.6" text-anchor="start" transform="translate(159.82 638.50) scale(1 1.030)">cores</text>
<text font-size="13.6" text-anchor="start" transform="translate(301.78 567.80) scale(1 1.030)">rims</text>
<text font-size="14.6" text-anchor="start" transform="translate(218.11 628.28) rotate(-34.50) scale(1 1.030)">Phlogopite</text>
<text font-size="14.3" text-anchor="start" transform="translate(88.70 490.61) rotate(-90.00) scale(1 1.030)">Undepleted Gnts</text>
<text font-size="14.3" text-anchor="start" transform="translate(104.50 491.29) rotate(-90.00) scale(1 1.030)">(High Geotherm)</text>
<rect x="52.00" y="356.60" width="320.70" height="299.00" fill="none" stroke="#000" stroke-width="2"/>
<line x1="52" y1="418.30" x2="57" y2="418.30" stroke="#000" stroke-width="1.3"/>
<line x1="52" y1="538.50" x2="57" y2="538.50" stroke="#000" stroke-width="1.3"/>
<line x1="159.00" y1="655.6" x2="159.00" y2="650.8" stroke="#000" stroke-width="1.3"/>
<line x1="269.30" y1="655.6" x2="269.30" y2="650.8" stroke="#000" stroke-width="1.3"/>
<text font-size="14.6" text-anchor="start" transform="translate(29.67 423.75) scale(1 1.030)">40</text>
<text font-size="14.6" text-anchor="start" transform="translate(29.07 543.00) scale(1 1.030)">20</text>
<text font-size="14.6" text-anchor="start" transform="translate(37.72 660.00) scale(1 1.030)">0</text>
<text font-size="14.6" text-anchor="start" transform="translate(47.82 673.90) scale(1 1.030)">0</text>
<text font-size="14.6" text-anchor="start" transform="translate(153.42 673.90) scale(1 1.030)">50</text>
<text font-size="14.6" text-anchor="start" transform="translate(259.30 673.60) scale(1 1.030)">100</text>
<text font-size="14.6" text-anchor="start" transform="translate(359.60 673.70) scale(1 1.030)">150</text>
<text font-size="14.6" text-anchor="start" transform="translate(184.73 692.80) scale(1 1.030)">Zr (ppm)</text>
<text font-size="14.6" text-anchor="start" transform="translate(11.50 532.13) rotate(-90.00) scale(1 1.030)">Y (ppm)</text>
</g></svg>
</body></html>
